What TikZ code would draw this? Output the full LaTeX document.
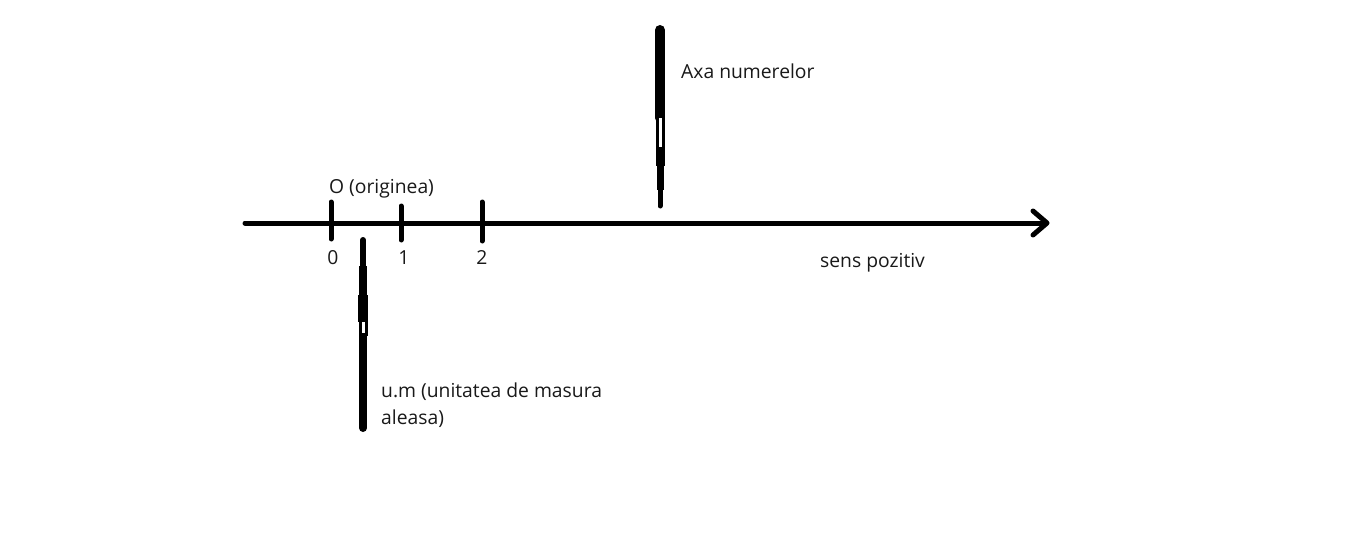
\documentclass[tikz,border=0pt]{standalone}
\usepackage{fontspec}
\setmainfont{Open Sans}
\begin{document}
\begin{tikzpicture}[x = 1pt, y = -1pt, font = \fontsize{19.3}{27}\selectfont,
	pen/.style = {line width = #1, line cap = round},
	lbl/.style = {anchor = west, inner sep = 0pt, text = black!90}]
	\useasboundingbox[fill = white] (0, 0) rectangle (1359, 559);

	% axa
	\draw[pen = 5pt] (245, 223) -- (1046, 223);
	\draw[pen = 5pt, line join = round] (1033, 211) -- (1047, 223) -- (1033, 235);

	% gradatii
	\draw[pen = 5pt] (331, 202) -- (331, 239);
	\draw[pen = 5pt] (401, 206) -- (401, 240);
	\draw[pen = 5pt] (482, 202) -- (482, 241);

	\node[lbl, anchor = center] (n0) at (333, 258) {0};
	\node[lbl, anchor = center] (n1) at (404, 258) {1};
	\node[lbl, anchor = center] (n2) at (482, 258) {2};
	\node[lbl] (orig) at (329, 189) {O (originea)};
	\node[lbl] (sens) at (820, 263) {sens pozitiv};

	% creion u.m
	\draw[pen = 6pt] (363, 240) -- (363, 268);
	\draw[pen = 8pt, line cap = butt] (363, 266) -- (363, 296);
	\draw[pen = 10pt, line cap = butt] (363, 295) -- (363, 322);
	\draw[pen = 8pt] (363, 330) -- (363, 428);
	\draw[line width = 3pt, fill = white] (360, 320) rectangle (366, 334);
	\node[lbl, align = left, anchor = north west] (um) at (381, 383) {u.m (unitatea de masura\\aleasa)};

	% creion axa
	\draw[pen = 10pt] (660, 30) -- (660, 118);
	\draw[pen = 9pt, line cap = butt] (660, 146) -- (660, 166);
	\draw[pen = 7pt, line cap = butt] (660, 165) -- (660, 190);
	\draw[pen = 5pt] (660, 189) -- (660, 206);
	\draw[line width = 3pt, fill = white] (657, 117) rectangle (663, 148);
	\node[lbl] (axa) at (681, 71) {Axa numerelor};
\end{tikzpicture}
\end{document}
